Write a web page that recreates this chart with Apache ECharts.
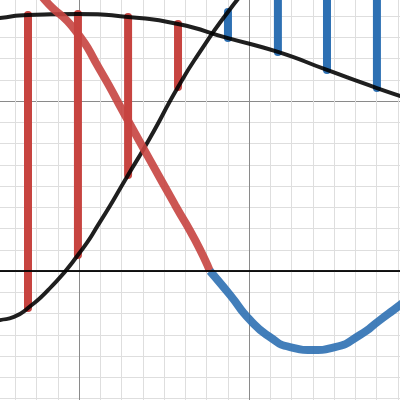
<!DOCTYPE html><html><head><meta charset="utf-8">
<script src="https://cdn.jsdelivr.net/npm/echarts@6/dist/echarts.min.js"></script>
<style>html,body{margin:0;padding:0;background:#fff;overflow:hidden;width:400px;height:400px;position:relative}#c{width:510px;height:510px;position:absolute;left:-91px;top:-69px}</style></head><body><div id="c"></div>
<script>
const redX=[-2.07,-1.6,-0.19,0.99,2.16,3.34,4.52,5.46,6.16];
const redY=[13.46,12.75,11.34,9.46,7.34,5.22,3.11,1.46,0];
const blueX=[6.16,7.11,8.05,8.99,9.93,11.01,12.05,13.22,14.16,15.11,15.58];
const blueY=[0,-1.13,-2.31,-3.11,-3.58,-3.72,-3.58,-3.01,-2.31,-1.6,-1.22];
const aX=[-4.19,-3.72,-3.06,-2.4,-1.36,-0.05,0.99,2.31,3.34,4.66,5.69,7.01,8.05];
const aY=[-2.4,-2.31,-2.16,-1.74,-0.8,0.75,2.31,4.52,6.26,8.66,10.31,12.19,13.46];
const bX=[-4.19,-3.72,-2.4,-0.05,2.31,4.66,7.01,9.36,11.67,14.02,15.58];
const bY=[11.86,11.91,12.05,12.09,11.95,11.62,10.96,10.31,9.46,8.61,8.09];
const stemX=[-2.4,-0.05,2.31,4.66,7.01,9.36,11.67,14.02];
const stemA=[-1.74,0.75,4.52,8.66,12.19,14.5,16,17];
const stemB=[12.05,12.09,11.95,11.62,10.96,10.31,9.46,8.61];
const RED='#c74440',BLUE='#2d70b3';
const z=(xs,ys)=>xs.map((x,i)=>[x,ys[i]]);
const series=[];
stemX.forEach((x,i)=>series.push({type:'line',data:[[x,stemA[i]],[x,stemB[i]]],symbol:'none',
 lineStyle:{color:stemA[i]<stemB[i]?RED:BLUE,width:8,cap:'round'},z:2}));
series.push({type:'line',data:z(aX,aY),smooth:0.6,symbol:'none',lineStyle:{color:'#000',width:4,opacity:0.88},z:3});
series.push({type:'line',data:z(bX,bY),smooth:0.6,symbol:'none',lineStyle:{color:'#000',width:4,opacity:0.88},z:3});
series.push({type:'line',data:z(redX,redY),smooth:0.6,symbol:'none',lineStyle:{color:RED,width:8,opacity:0.9},z:4});
series.push({type:'line',data:z(blueX,blueY),smooth:0.6,symbol:'none',lineStyle:{color:BLUE,width:8,opacity:0.9},z:4,
 markLine:{silent:true,symbol:'none',label:{show:false},lineStyle:{color:'#000',width:2,type:'solid',opacity:0.9},data:[{yAxis:0}]}});
const ch=echarts.init(document.getElementById('c'));
const ax=(iv,col)=>({type:'value',interval:iv,axisLine:{show:false},axisTick:{show:false},axisLabel:{show:false},
 splitLine:{show:true,lineStyle:{color:col,width:1}}});
const g={left:0,top:0,right:0,bottom:0};
ch.setOption({animation:false,
 grid:[Object.assign({},g),Object.assign({},g)],
 xAxis:[Object.assign(ax(1,'#dedede'),{min:-8,max:16,gridIndex:0}),Object.assign(ax(8,'#8a8a8a'),{min:-8,max:16,gridIndex:1})],
 yAxis:[Object.assign(ax(1,'#dedede'),{min:-8,max:16,gridIndex:0}),Object.assign(ax(8,'#8a8a8a'),{min:-8,max:16,gridIndex:1})],
 series:series});
</script></body></html>
